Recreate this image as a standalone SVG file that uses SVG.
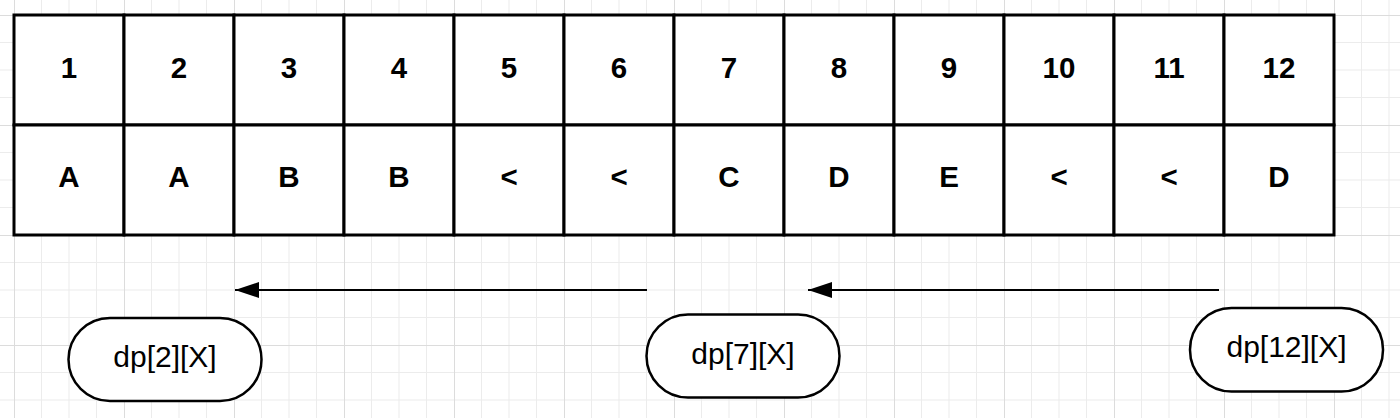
<svg xmlns="http://www.w3.org/2000/svg" width="1400" height="418" viewBox="0 0 1400 418">
  <style>
    .cell { fill: #ffffff; stroke: #000000; stroke-width: 3; }
    .num { font-family: "Liberation Sans", Arial, sans-serif; font-weight: bold; font-size: 29.5px; text-anchor: middle; fill: #000000; }
    .node rect { fill: #ffffff; stroke: #000000; stroke-width: 2.5; }
    .node text { font-family: "Liberation Sans", Arial, sans-serif; font-size: 30px; text-anchor: middle; fill: #000000; }
    .conn { stroke: #000000; stroke-width: 2; fill: none; }
  </style>
  <defs>
    <pattern id="grid" patternUnits="userSpaceOnUse" x="14" y="15" width="110" height="110">
      <rect x="0" y="0" width="110" height="110" fill="#ffffff"/>
      <g fill="#ececec">
        <rect x="27" y="0" width="1" height="110"/>
        <rect x="54.5" y="0" width="1" height="110"/>
        <rect x="82" y="0" width="1" height="110"/>
        <rect x="0" y="27" width="110" height="1"/>
        <rect x="0" y="54.5" width="110" height="1"/>
        <rect x="0" y="82" width="110" height="1"/>
      </g>
      <g fill="#dcdcdc">
        <rect x="0" y="0" width="1" height="110"/>
        <rect x="0" y="0" width="110" height="1"/>
      </g>
    </pattern>
    <marker id="arrow" markerUnits="userSpaceOnUse" markerWidth="24" markerHeight="16" refX="24" refY="8" orient="auto">
      <path d="M0,0 L24,8 L0,16 Z" fill="#000000"/>
    </marker>
  </defs>
  <rect x="0" y="0" width="1400" height="418" fill="url(#grid)"/>

  <g id="table">
    <g id="row-index">
      <rect class="cell" x="14" y="15" width="110" height="110"/>
      <rect class="cell" x="124" y="15" width="110" height="110"/>
      <rect class="cell" x="234" y="15" width="110" height="110"/>
      <rect class="cell" x="344" y="15" width="110" height="110"/>
      <rect class="cell" x="454" y="15" width="110" height="110"/>
      <rect class="cell" x="564" y="15" width="110" height="110"/>
      <rect class="cell" x="674" y="15" width="110" height="110"/>
      <rect class="cell" x="784" y="15" width="110" height="110"/>
      <rect class="cell" x="894" y="15" width="110" height="110"/>
      <rect class="cell" x="1004" y="15" width="110" height="110"/>
      <rect class="cell" x="1114" y="15" width="110" height="110"/>
      <rect class="cell" x="1224" y="15" width="110" height="110"/>
      <text class="num" x="69" y="77.5">1</text>
      <text class="num" x="179" y="77.5">2</text>
      <text class="num" x="289" y="77.5">3</text>
      <text class="num" x="399" y="77.5">4</text>
      <text class="num" x="509" y="77.5">5</text>
      <text class="num" x="619" y="77.5">6</text>
      <text class="num" x="729" y="77.5">7</text>
      <text class="num" x="839" y="77.5">8</text>
      <text class="num" x="949" y="77.5">9</text>
      <text class="num" x="1059" y="77.5">10</text>
      <text class="num" x="1169" y="77.5">11</text>
      <text class="num" x="1279" y="77.5">12</text>
    </g>
    <g id="row-values">
      <rect class="cell" x="14" y="125" width="110" height="110"/>
      <rect class="cell" x="124" y="125" width="110" height="110"/>
      <rect class="cell" x="234" y="125" width="110" height="110"/>
      <rect class="cell" x="344" y="125" width="110" height="110"/>
      <rect class="cell" x="454" y="125" width="110" height="110"/>
      <rect class="cell" x="564" y="125" width="110" height="110"/>
      <rect class="cell" x="674" y="125" width="110" height="110"/>
      <rect class="cell" x="784" y="125" width="110" height="110"/>
      <rect class="cell" x="894" y="125" width="110" height="110"/>
      <rect class="cell" x="1004" y="125" width="110" height="110"/>
      <rect class="cell" x="1114" y="125" width="110" height="110"/>
      <rect class="cell" x="1224" y="125" width="110" height="110"/>
      <text class="num" x="69" y="187">A</text>
      <text class="num" x="179" y="187">A</text>
      <text class="num" x="289" y="187">B</text>
      <text class="num" x="399" y="187">B</text>
      <text class="num" x="509" y="187">&lt;</text>
      <text class="num" x="619" y="187">&lt;</text>
      <text class="num" x="729" y="187">C</text>
      <text class="num" x="839" y="187">D</text>
      <text class="num" x="949" y="187">E</text>
      <text class="num" x="1059" y="187">&lt;</text>
      <text class="num" x="1169" y="187">&lt;</text>
      <text class="num" x="1279" y="187">D</text>
    </g>
  </g>

  <g id="connectors">
    <line class="conn" x1="647" y1="290" x2="235" y2="290" marker-end="url(#arrow)"/>
    <line class="conn" x1="1219" y1="290" x2="808" y2="290" marker-end="url(#arrow)"/>
  </g>

  <g id="node-dp2" class="node">
    <rect x="68.5" y="318" width="193" height="83" rx="41.5" ry="41.5"/>
    <text x="165" y="367">dp[2][X]</text>
  </g>
  <g id="node-dp7" class="node">
    <rect x="646.5" y="314.5" width="193" height="83" rx="41.5" ry="41.5"/>
    <text x="743" y="363.5">dp[7][X]</text>
  </g>
  <g id="node-dp12" class="node">
    <rect x="1190" y="308" width="193" height="83.5" rx="41.5" ry="41.5"/>
    <text x="1286.5" y="357">dp[12][X]</text>
  </g>
</svg>
